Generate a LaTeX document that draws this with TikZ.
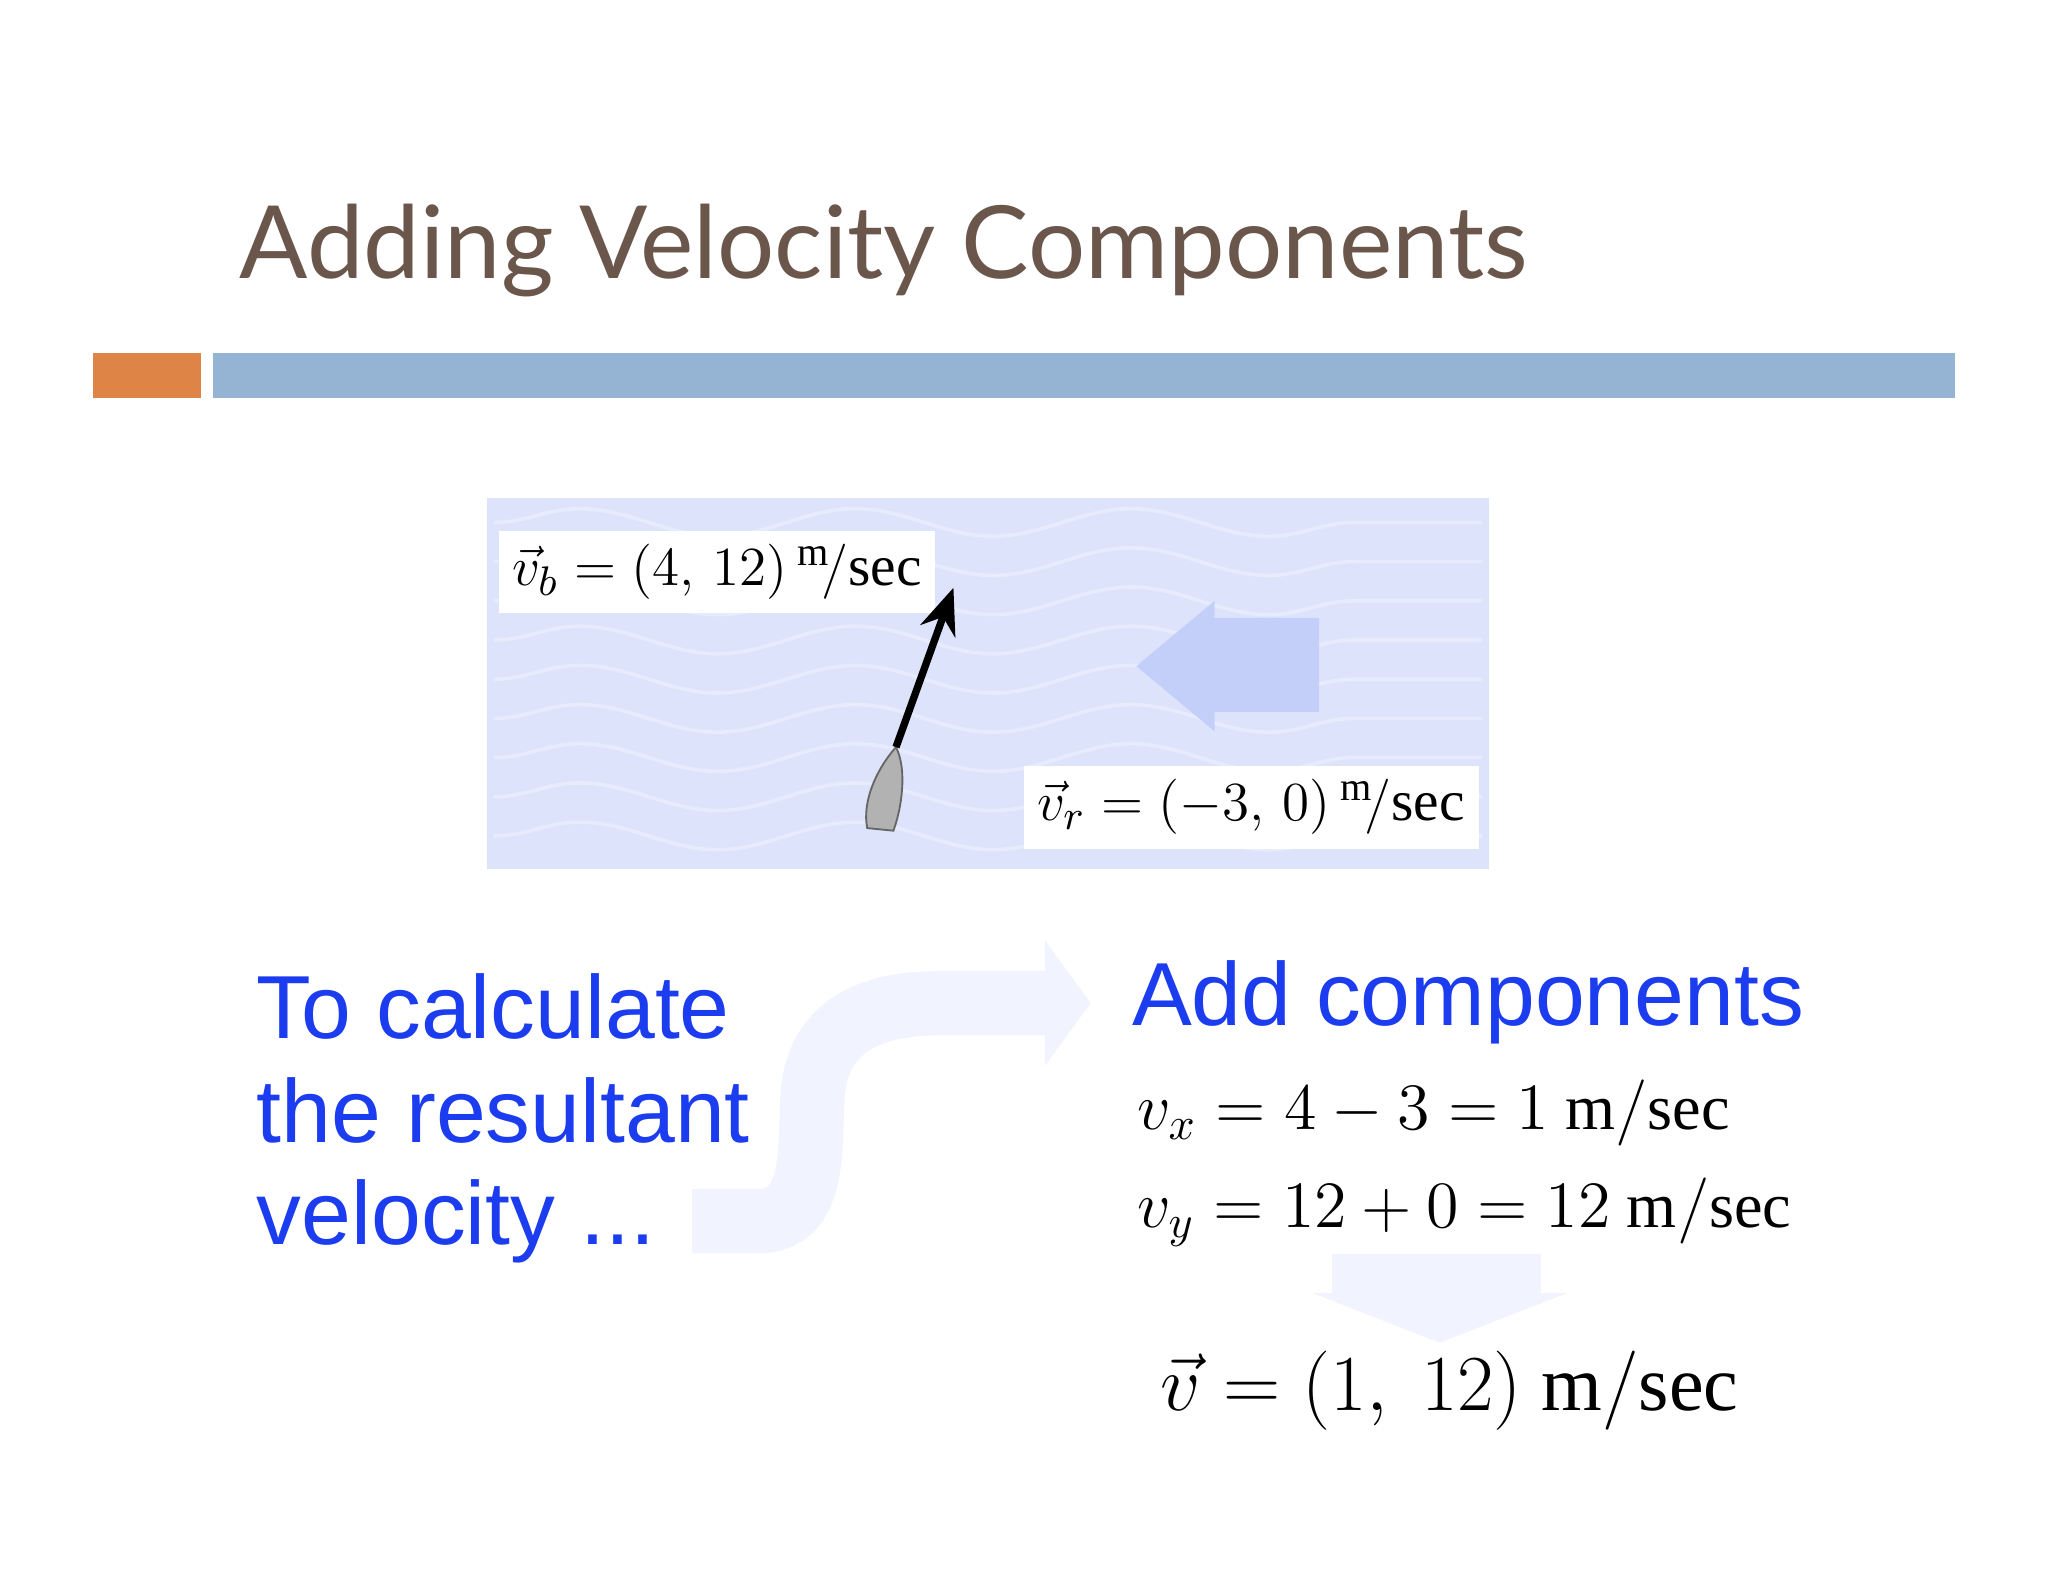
\documentclass[tikz,border=0pt]{standalone}
\usepackage{fontspec}
\setmainfont{Liberation Serif}
\newfontfamily\titlefont{Lato}
\newfontfamily\arialf{Liberation Sans}
\usetikzlibrary{arrows.meta,decorations.pathmorphing}
\definecolor{titlec}{HTML}{6B564C}
\definecolor{orangec}{HTML}{DE8446}
\definecolor{barc}{HTML}{95B3D3}
\definecolor{waterc}{HTML}{DCE3FB}
\definecolor{wavec}{HTML}{E6ECFD}
\definecolor{bluet}{HTML}{1C3CF0}
\definecolor{bigarr}{HTML}{A9BAF7}
\definecolor{faint}{HTML}{F1F4FE}
\tikzset{lbl/.style={fill=white,inner sep=3pt,anchor=west,font=\fontsize{12.5}{15}\selectfont},
bluetext/.style={text=bluet,font=\arialf\fontsize{19.5}{24}\selectfont,anchor=base west,inner sep=0pt},
eq/.style={font=\fontsize{14}{17}\selectfont,anchor=base west,inner sep=0pt}}
\begin{document}
\begin{tikzpicture}[x=0.01cm,y=-0.01cm]
\useasboundingbox (0,0) rectangle (1568,1211);
\fill[white] (0,0) rectangle (1568,1211);
\node[text=titlec,font=\titlefont\fontsize{22}{26}\selectfont,anchor=base west,inner sep=0pt] (title) at (183,213) {Adding Velocity Components};
\fill[orangec] (71,270) rectangle (154,305);
\fill[barc] (163,270) rectangle (1497,305);
% water
\fill[waterc] (373,381) rectangle (1140,665);
\foreach \y in {400,430,460,490,520,550,580,610,640}{
  \draw[wavec,line width=0.8pt,decorate,decoration={snake,amplitude=3,segment length=60}] (378,\y) -- (1135,\y);}
\node[lbl] (vb) at (381,438) {$\vec v_b=(4,\,12)\,^{\mathrm{m}}\!/\mathrm{sec}$};
\node[lbl] (vr) at (783,618) {$\vec v_r=(-3,\,0)\,^{\mathrm{m}}\!/\mathrm{sec}$};
% boat
\coordinate (bt) at (686,572);
\fill[gray!60,draw=gray!80!black] (686,572) .. controls (695,590) and (690,620) .. (684,636) -- (664,634) .. controls (660,615) and (670,590) .. (686,572);
\draw[-{Stealth[length=10pt,width=8pt]},line width=1.6pt] (bt) -- (730,450) coordinate (tip);
% big river arrow
\fill[bigarr!70] (1010,473) -- (930,473) -- (930,460) -- (870,510) -- (930,560) -- (930,545) -- (1010,545) -- cycle;
% blue text
\node[bluetext] (t1) at (196,795) {To calculate};
\node[bluetext] (t2) at (196,875) {the resultant};
\node[bluetext] (t3) at (196,953) {velocity ...};
% curved faint arrow
\draw[faint,line width=14pt] (530,935) -- (580,935) .. controls (625,935) and (620,880) .. (622,840) .. controls (625,790) and (660,768) .. (720,768) -- (800,768);
\fill[faint] (800,720) -- (835,768) -- (800,816) -- cycle;
\node[bluetext] (add) at (866,785) {Add components};
\node[eq] (vx) at (870,865) {$v_x=4-3=1\ \mathrm{m/sec}$};
\node[eq] (vy) at (870,940) {$v_y=12+0=12\ \mathrm{m/sec}$};
\fill[faint] (1020,960) rectangle (1180,990);
\fill[faint] (1005,990) -- (1200,990) -- (1102,1028) -- cycle;
\node[eq,font=\fontsize{17}{20}\selectfont] (res) at (888,1080) {$\vec v=(1,\ 12)\ \mathrm{m/sec}$};
\end{tikzpicture}
\end{document}
